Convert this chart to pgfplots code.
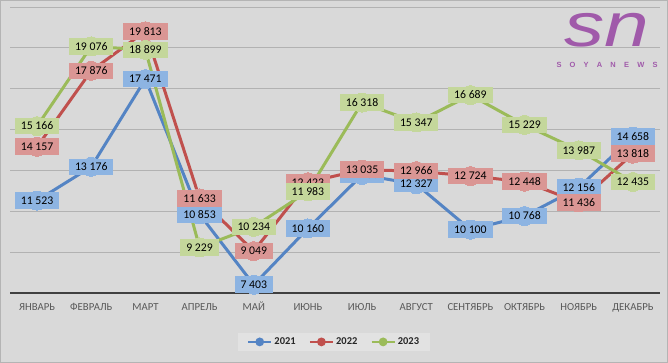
\documentclass[border=0pt]{standalone}
\usepackage{pgfplots}
\pgfplotsset{compat=1.18}
\usepackage{pgfplotstable}
\usepackage{fontspec}
\setmainfont{Carlito}
\newfontfamily\logofont{Liberation Sans}
\definecolor{bg}{RGB}{217,217,217}
\definecolor{framec}{RGB}{180,180,180}
\definecolor{gridc}{RGB}{178,178,178}
\definecolor{axisc}{RGB}{64,64,64}
\definecolor{tickc}{RGB}{89,89,89}
\definecolor{legc}{RGB}{38,38,38}
\definecolor{b21}{RGB}{84,132,196}
\definecolor{b21l}{RGB}{141,180,226}
\definecolor{r22}{RGB}{192,80,77}
\definecolor{r22l}{RGB}{218,150,148}
\definecolor{g23}{RGB}{155,187,89}
\definecolor{g23l}{RGB}{196,215,155}
\definecolor{legbg}{RGB}{226,226,226}
\definecolor{logoc}{RGB}{160,90,170}

\pgfplotstableread{
x y
0 11523
1 13176
2 17471
3 10853
4 7403
5 10160
6 12780
7 12327
8 10100
9 10768
10 12156
11 14658
}\tA
\pgfplotstableread{
x y
0 14157
1 17876
2 19813
3 11633
4 9049
5 12423
6 13035
7 12966
8 12724
9 12448
10 11436
11 13818
}\tB
\pgfplotstableread{
x y
0 15166
1 19076
2 18899
3 9229
4 10234
5 11983
6 16318
7 15347
8 16689
9 15229
10 13987
11 12435
}\tC

\pgfplotsset{
  lbl/.style={draw=none, mark=none, forget plot,
    nodes near coords={\pgfmathprintnumber[assume math mode=true,1000 sep={\ }]{\pgfplotspointmeta}},
    nodes near coords align=center,
    every node near coord/.append style={fill=#1, text=black, anchor=center,
      font=\fontsize{11.8}{12}\selectfont, inner xsep=6bp, inner ysep=4.5bp,
      text height=7.6bp, text depth=0bp}},
  ser/.style 2 args={color=#1, line width=3bp, mark=*, mark size=9.5bp,
      mark options={fill=#2, draw=#2, line width=0pt}},
}

\begin{document}
\begin{tikzpicture}
\fill[bg] (0,0) rectangle (668bp,363bp);
\draw[framec, line width=1bp] (0.5bp,0.5bp) rectangle (667.5bp,362.5bp);
\begin{axis}[
  at={(10bp,70bp)}, anchor=south west,
  width=650bp, height=286bp, scale only axis,
  xmin=-0.5, xmax=11.5, ymin=7000, ymax=21000,
  clip=false,
  scaled y ticks=false,
  axis line style={draw=none},
  major tick length=0pt,
  xtick={0,...,11},
  xticklabels={ЯНВАРЬ,ФЕВРАЛЬ,МАРТ,АПРЕЛЬ,МАЙ,ИЮНЬ,ИЮЛЬ,АВГУСТ,СЕНТЯБРЬ,ОКТЯБРЬ,НОЯБРЬ,ДЕКАБРЬ},
  x tick label style={anchor=base, yshift=-17bp, text=tickc, font=\fontsize{10.8}{12}\selectfont},
  ytick={9000,11000,...,21000},
  yticklabels={},
  ymajorgrids,
  grid style={gridc, line width=0.8bp},
  extra y ticks={7000},
  extra y tick labels={},
  extra y tick style={grid=major, major grid style={axisc, line width=2.2bp}},
  legend style={at={(axis description cs:0.4985,-0.171)}, anchor=center,
    draw=none, fill=legbg, font=\fontsize{10.5}{12}\selectfont\bfseries, text=legc,
    inner xsep=9bp, inner ysep=3bp,
    /tikz/every even column/.append style={column sep=11bp}},
  legend columns=3,
  legend image code/.code={\draw[#1, mark=none, line width=2.5bp] (0bp,0bp) -- (23bp,0bp);
     \fill[#1] (11.5bp,0bp) circle (2.8bp);},
]
\addplot[ser={b21}{b21l}] table {\tA};
\addlegendentry{2021}
\addplot[ser={r22}{r22l}] table {\tB};
\addlegendentry{2022}
\addplot[ser={g23}{g23l}] table {\tC};
\addlegendentry{2023}
\addplot[lbl=b21l] table {\tA};
\addplot[lbl=r22l] table {\tB};
\addplot[lbl=g23l] table {\tC};
\end{axis}
\node[logoc, font=\logofont\itshape\fontsize{62}{62}\selectfont, xscale=1.3, inner sep=0pt] at (607bp,333bp) {sn};
\node[logoc, font=\logofont\bfseries\fontsize{7.5}{8}\selectfont, inner sep=0pt] at (607bp,298bp)
  {S\hspace{8.2bp}O\hspace{8.2bp}Y\hspace{8.2bp}A\hspace{8.2bp}N\hspace{8.2bp}E\hspace{8.2bp}W\hspace{8.2bp}S};
\end{tikzpicture}
\end{document}
